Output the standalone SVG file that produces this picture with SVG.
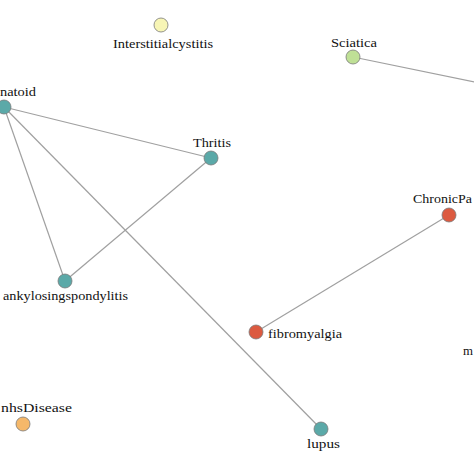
<svg xmlns="http://www.w3.org/2000/svg" width="474" height="474" viewBox="0 0 474 474">
<style>
.e{stroke:#a0a0a0;stroke-width:1.2;fill:none}
.n{stroke:#7a7a7a;stroke-width:0.8}
</style>
<rect width="474" height="474" fill="#fff"/>
<g id="edges">
<line class="e" x1="4" y1="107" x2="211" y2="158"/>
<line class="e" x1="4" y1="107" x2="65" y2="281"/>
<line class="e" x1="4" y1="107" x2="321" y2="429"/>
<line class="e" x1="211" y1="158" x2="65" y2="281"/>
<line class="e" x1="449" y1="215" x2="256" y2="332"/>
<line class="e" x1="353" y1="57" x2="480" y2="83"/>
</g>
<g font-family="'Liberation Serif', 'DejaVu Serif', serif" font-size="13" fill="#111" lengthAdjust="spacingAndGlyphs">
<g id="interstitialcystitis"><circle class="n" cx="161" cy="25" r="7" fill="#f7f5b5"/><text x="113" y="48" textLength="100" lengthAdjust="spacingAndGlyphs">Interstitialcystitis</text></g>
<g id="sciatica"><circle class="n" cx="353" cy="57" r="7" fill="#bfe096"/><text x="331" y="47" textLength="46" lengthAdjust="spacingAndGlyphs">Sciatica</text></g>
<g id="rheumatoid"><circle class="n" cx="4" cy="107" r="7" fill="#5ba9a8"/><text x="0" y="96" textLength="36" lengthAdjust="spacingAndGlyphs">natoid</text></g>
<g id="thritis"><circle class="n" cx="211" cy="158" r="7" fill="#5ba9a8"/><text x="193" y="147" textLength="38" lengthAdjust="spacingAndGlyphs">Thritis</text></g>
<g id="chronicpain"><circle class="n" cx="449" cy="215" r="7" fill="#dc5a40"/><text x="413" y="203" textLength="59" lengthAdjust="spacingAndGlyphs">ChronicPa</text></g>
<g id="ankylosingspondylitis"><circle class="n" cx="65" cy="281" r="7" fill="#5ba9a8"/><text x="3" y="300" textLength="125" lengthAdjust="spacingAndGlyphs">ankylosingspondylitis</text></g>
<g id="fibromyalgia"><circle class="n" cx="256" cy="332" r="7" fill="#dc5a40"/><text x="268" y="338" textLength="74" lengthAdjust="spacingAndGlyphs">fibromyalgia</text></g>
<g id="m"><text x="463" y="355" textLength="10" lengthAdjust="spacingAndGlyphs">m</text></g>
<g id="crohnsdisease"><circle class="n" cx="23" cy="424" r="7" fill="#f5b86a"/><text x="1" y="412" textLength="71" lengthAdjust="spacingAndGlyphs">nhsDisease</text></g>
<g id="lupus"><circle class="n" cx="321" cy="429" r="7" fill="#5ba9a8"/><text x="307" y="448" textLength="33" lengthAdjust="spacingAndGlyphs">lupus</text></g>
</g>
</svg>
